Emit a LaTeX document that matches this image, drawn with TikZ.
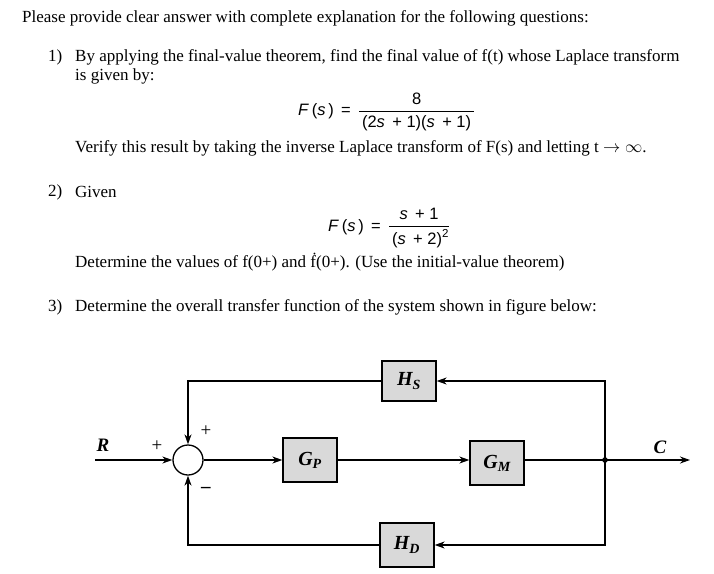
\documentclass[tikz,border=0pt]{standalone}
\usepackage{amsmath}
\usepackage{fontspec}
\setmainfont{Liberation Serif}
\newfontfamily\eqfont{Liberation Sans}
\usetikzlibrary{positioning,calc,arrows.meta}
\newcommand{\vi}[1]{\textit{#1}}
\tikzset{
  line/.style={line width=1.3pt},
  arr/.style={line width=1.3pt, -{Stealth[length=10pt,width=7pt]}},
  blk/.style={draw, line width=1.3pt, fill=gray!30, minimum width=54pt, minimum height=44pt, inner sep=0pt, font=\fontsize{20}{22}\selectfont\bfseries\itshape},
  txt/.style={anchor=west, inner sep=0pt, font=\fontsize{17}{19}\selectfont},
  eqn/.style={anchor=west, inner sep=0pt, font=\eqfont\fontsize{16.5}{19}\selectfont},
  sgn/.style={inner sep=0pt, font=\fontsize{19}{21}\selectfont}
}
\begin{document}
\begin{tikzpicture}[x=1pt, y=-1pt]
  \useasboundingbox (0,0) rectangle (714,573);
  % question text
  \node[txt] (intro) at (22,18) {Please provide clear answer with complete explanation for the following questions:};
  \node[txt] (n1) at (48,57) {1)};
  \node[txt] (q1a) at (75,57) {By applying the final-value theorem, find the final value of f(t) whose Laplace transform};
  \node[txt] (q1b) at (75,76) {is given by:};
  \node[eqn] (eq1) at (298,112) {\vi{F}\,(\vi{s}\,)\, = \,$\dfrac{\text{8}}{\text{\,(2\vi{s} \,+ 1)(\vi{s} \,+ 1)\,}}$};
  \node[txt] (q1c) at (75,148) {Verify this result by taking the inverse Laplace transform of F(s) and letting t $\rightarrow\infty$.};
  \node[txt] (n2) at (48,192) {2)};
  \node[txt] (q2a) at (75,192) {Given};
  \node[eqn] (eq2) at (328,228) {\vi{F}\,(\vi{s}\,)\, = \,$\dfrac{\text{\vi{s} \,+ 1}}{\text{\,(\vi{s} \,+ 2)}^{\text{2}}}$};
  \node[txt] (q2b) at (75,262) {Determine the values of f(0+) and \.{f}(0+). (Use the initial-value theorem)};
  \node[txt] (n3) at (48,307) {3)};
  \node[txt] (q3a) at (75,307) {Determine the overall transfer function of the system shown in figure below:};

  % block diagram
  \node[draw, line width=1.3pt, circle, minimum size=30pt, inner sep=0pt] (sum) at (188,460) {};
  \node[blk] (gp) at (310,460) {G\textsubscript{P}};
  \node[blk] (gm) at (497,463) {G\textsubscript{M}};
  \node[blk, minimum height=40pt] (hs) at (409,381) {H\textsubscript{S}};
  \node[blk] (hd) at (407,545) {H\textsubscript{D}};
  \coordinate (rin) at (95,460);
  \coordinate (jn) at (605,460);
  \coordinate (cout) at (690,460);
  \coordinate (tr) at (605,381);
  \coordinate (br) at (605,545);
  \coordinate (tl) at (188,381);
  \coordinate (bl) at (188,545);
  \draw[arr] (rin) -- (sum);
  \draw[arr] (sum) -- (gp);
  \draw[arr] (gp) -- (gp -| gm.west);
  \draw[arr] (gp -| gm.east) -- (cout);
  \fill (jn) circle (2.8pt);
  \draw[arr] (jn) -- (tr) -- (hs);
  \draw[arr] (hs) -- (tl) -- (sum);
  \draw[arr] (jn) -- (br) -- (hd);
  \draw[arr] (hd) -- (bl) -- (sum);
  \node[sgn, font=\fontsize{19}{21}\selectfont\bfseries\itshape] (rlab) at (103,445) {R};
  \node[sgn, font=\fontsize{19}{21}\selectfont\bfseries\itshape] (clab) at (660,447) {C};
  \node[sgn] (p1) at (157,446) {+};
  \node[sgn] (p2) at (206,431) {+};
  \node[sgn] (m1) at (206,490) {\textbf{--}};
\end{tikzpicture}
\end{document}
